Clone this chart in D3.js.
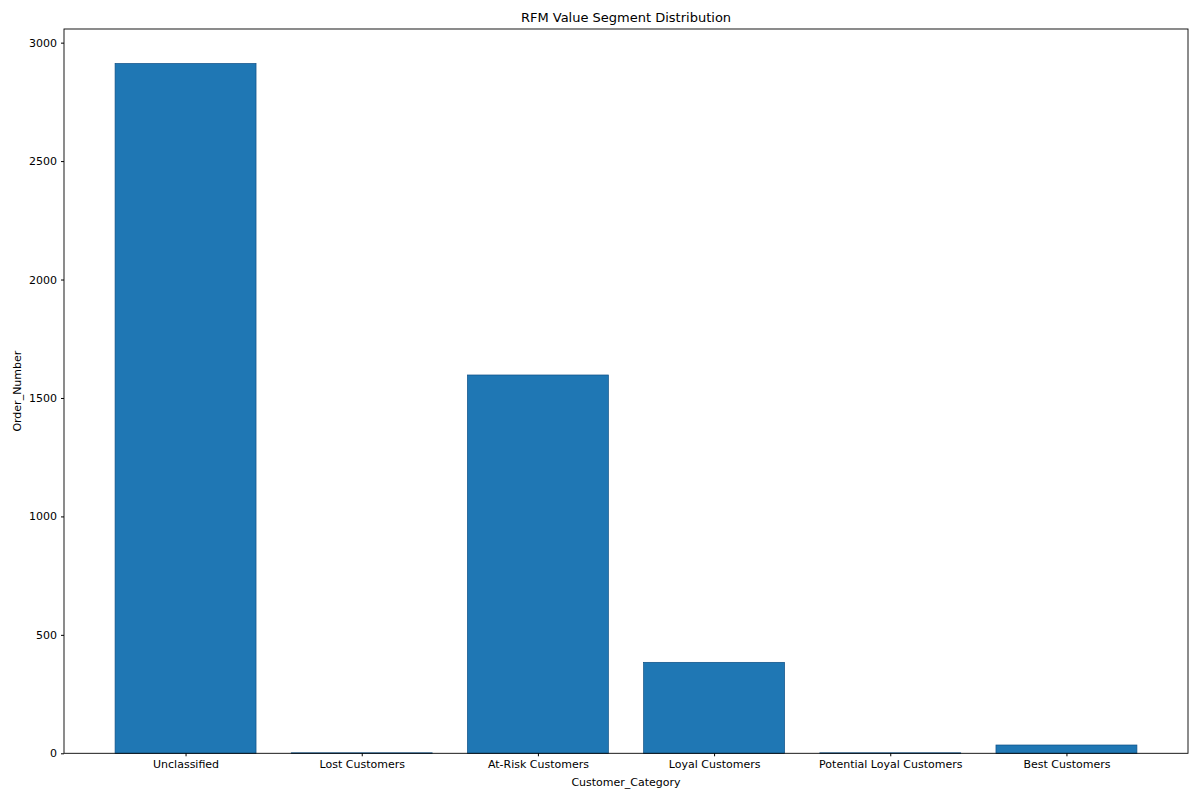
<!DOCTYPE html>
<html><head><meta charset="utf-8">
<script src="https://cdn.jsdelivr.net/npm/d3@7"></script>
<style>body{margin:0;background:#fff;} text{font-family:"DejaVu Sans",sans-serif;fill:#000;}</style>
</head><body>
<svg id="chart" width="1200" height="800"></svg>
<script>
const categories = ["Unclassified","Lost Customers","At-Risk Customers","Loyal Customers","Potential Loyal Customers","Best Customers"];
const values = [2912, 2, 1597, 384, 2, 35];
const yTicks = [0,500,1000,1500,2000,2500,3000];
const title = "RFM Value Segment Distribution";
const xLabel = "Customer_Category";
const yLabel = "Order_Number";

const svg = d3.select("#chart");
const L = 64, R = 1188, T = 29, B = 753.3;
const n = categories.length;
const x = d3.scaleLinear().domain([-0.69, n - 1 + 0.69]).range([L, R]);
const yMax = d3.max(values) * 1.05;
const y = d3.scaleLinear().domain([0, yMax]).range([B, T]);
const bw = 0.8;

svg.append("g").selectAll("rect").data(values).join("rect")
  .attr("x", (d,i) => x(i - bw/2))
  .attr("width", (d,i) => x(i + bw/2) - x(i - bw/2))
  .attr("y", d => y(d))
  .attr("height", d => y(0) - y(d))
  .attr("fill", "#1f77b4")
  .attr("stroke", "#0d4f85")
  .attr("stroke-width", 0.7);

const xAxis = d3.axisBottom(x).tickValues(d3.range(n)).tickFormat(i => categories[i]).tickSize(3).tickPadding(4);
const gx = svg.append("g").attr("transform", `translate(0,${B})`).call(xAxis);
gx.select(".domain").remove();
gx.selectAll("text").style("font-size","11px");

const yAxis = d3.axisLeft(y).tickValues(yTicks).tickFormat(d3.format("d")).tickSize(3).tickPadding(4);
const gy = svg.append("g").attr("transform", `translate(${L},0)`).call(yAxis);
gy.select(".domain").remove();
gy.selectAll("text").style("font-size","11px");

svg.append("rect").attr("x", L).attr("y", T).attr("width", R - L).attr("height", B - T)
  .attr("fill","none").attr("stroke","#000").attr("stroke-width",0.9);

svg.append("text").attr("x", (L+R)/2).attr("y", 22).attr("text-anchor","middle").style("font-size","13px").text(title);
svg.append("text").attr("x", (L+R)/2).attr("y", 786).attr("text-anchor","middle").style("font-size","11px").text(xLabel);
svg.append("text").attr("transform", `translate(21,${(T+B)/2}) rotate(-90)`).attr("text-anchor","middle").style("font-size","11px").text(yLabel);
</script>
</body></html>
